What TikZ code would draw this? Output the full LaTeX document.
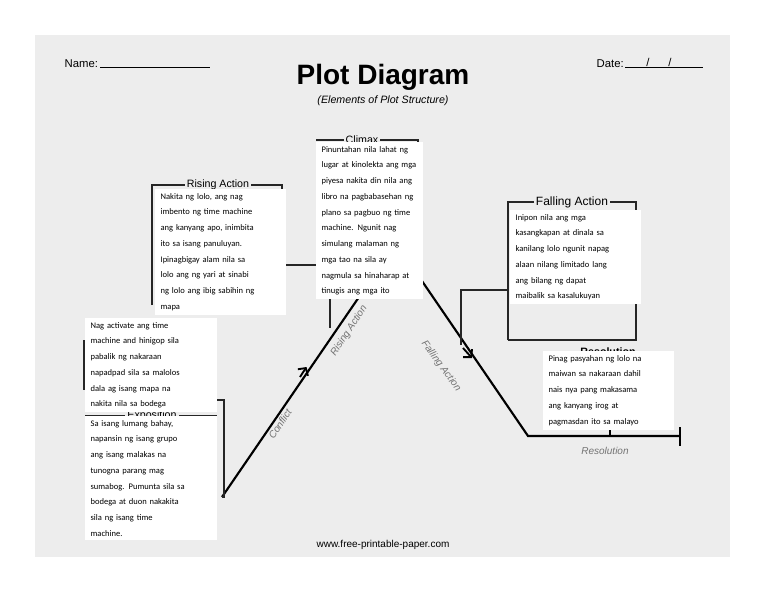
\documentclass[tikz,border=0pt]{standalone}
\usepackage{fontspec}
\usetikzlibrary{arrows.meta}
\setmainfont{Liberation Sans}
\newfontfamily\boxfont{Carlito}
\begin{document}
\begin{tikzpicture}[x=0.75pt,y=-0.75pt,
  txt/.style={anchor=north west,fill=white,align=left,inner xsep=4pt,inner ysep=3pt,
     font=\boxfont\fontsize{6.4}{11.8}\selectfont},
  ttl/.style={font=\fontsize{8}{9}\selectfont,fill=black!7,inner sep=1.5pt},
  frm/.style={line width=1pt,black!85},
  plot/.style={line width=1.6pt},
  tip/.style={line width=1.4pt,-{Straight Barb[length=4pt,width=9pt]}},
  lab/.style={font=\itshape\fontsize{7.5}{8}\selectfont,text=black!55}]
\useasboundingbox (0,0) rectangle (768,594);
\fill[white] (0,0) rectangle (768,594);
\fill[black!7] (35,35) rectangle (730,557);
% header
\node[anchor=base west,font=\fontsize{8.5}{9}\selectfont] (nm) at (60,67) {Name:};
\draw[line width=0.6pt] (100,67) -- (210,67);
\node[font=\bfseries\fontsize{21}{22}\selectfont] (t) at (383,77) {Plot Diagram};
\node[font=\itshape\fontsize{8}{9}\selectfont] (st) at (383,101) {(Elements of Plot Structure)};
\node[anchor=base west,font=\fontsize{8.5}{9}\selectfont] (dt) at (592,67) {Date:};
\draw[line width=0.6pt] (625,67) -- (703,67);
\node[anchor=base,font=\fontsize{8.5}{9}\selectfont] (s1) at (648,66) {/};
\node[anchor=base,font=\fontsize{8.5}{9}\selectfont] (s2) at (670,66) {/};
% plot line
\coordinate (c0) at (222,497);
\coordinate (pk) at (396,243);
\coordinate (fb) at (528,436);
\coordinate (re) at (680,436);
\draw[plot,line join=miter] (c0) -- (pk) -- (fb) -- (re);
\draw[plot] (680,427) -- (680,446);
\draw[plot] (610,428) -- (610,436);
\draw[plot] (86,490) -- (86,500);
\draw[tip] (300,377) -- (306.5,367);
\draw[tip] (463,348) -- (472,358);
\node[lab,rotate=57] (l1) at (280,424) {Conflict};
\node[lab,rotate=57] (l2) at (349,331) {Rising Action};
\node[lab,rotate=-54] (l3) at (441,366) {Falling Action};
\node[lab] (l4) at (605,451) {Resolution};
% connectors
\draw[frm] (214,400) -- (224,400) -- (224,497) -- (222,497);
\draw[frm] (282,265) -- (318,265);
\draw[frm] (330,290) -- (330,328);
\draw[frm] (461,345) -- (461,290) -- (508,290);
% frames
\draw[frm] (152,305) -- (152,185) -- (282,185) -- (282,300);
\draw[frm] (316,140) -- (418,140) -- (418,212);
\draw[frm] (508,340) -- (508,202) -- (636,202) -- (636,340) -- (508,340);
\draw[frm] (84,340) -- (84,390);
\draw[frm] (216,340) -- (216,390);
\draw[frm] (86,490) -- (86,416) -- (216,416) -- (216,500);
\draw[frm] (545,365) -- (545,420);
\draw[frm] (672,365) -- (672,420);
% titles
\node[ttl] (tr) at (218,185) {Rising Action};
\node[ttl] (tc) at (362,140) {Climax};
\node[ttl,font=\fontsize{9}{10}\selectfont] (tf) at (572,202) {Falling Action};
\node[ttl,font=\bfseries\fontsize{8}{9}\selectfont] (tre) at (608,352) {Resolution};
\node[ttl] (tex) at (152,416) {Exposition};
% text boxes
\node[txt,text width=90pt] (br) at (155,189) {Nakita ng lolo, ang nag\\ imbento ng time machine\\ ang kanyang apo, inimbita\\ ito sa isang panuluyan.\\ Ipinagbigay alam nila sa\\ lolo ang ng yari at sinabi\\ ng lolo ang ibig sabihin ng\\ mapa\\[-4pt]};
\node[txt,text width=72pt] (bc) at (316,142) {Pinuntahan nila lahat ng\\ lugar at kinolekta ang mga\\ piyesa nakita din nila ang\\ libro na pagbabasehan ng\\ plano sa pagbuo ng time\\ machine. Ngunit nag\\ simulang malaman ng\\ mga tao na sila ay\\ nagmula sa hinaharap at\\ tinugis ang mga ito\\[-2pt]};
\node[txt,text width=90pt] (bf) at (510,210) {Inipon nila ang mga\\ kasangkapan at dinala sa\\ kanilang lolo ngunit napag\\ alaan nilang limitado lang\\ ang bilang ng dapat\\ maibalik sa kasalukuyan\\[2pt]};
\node[txt,text width=91pt] (bn) at (85,318) {Nag activate ang time\\ machine and hinigop sila\\ pabalik ng nakaraan\\ napadpad sila sa malolos\\ dala ag isang mapa na\\ nakita nila sa bodega\\[2pt]};
\node[txt,text width=91pt] (be) at (85,416) {Sa isang lumang bahay,\\ napansin ng isang grupo\\ ang isang malakas na\\ tunogna parang mag\\ sumabog. Pumunta sila sa\\ bodega at duon nakakita\\ sila ng isang time\\ machine.};
\node[txt,text width=90pt] (bres) at (543,351) {Pinag pasyahan ng lolo na\\ maiwan sa nakaraan dahil\\ nais nya pang makasama\\ ang kanyang irog at\\ pagmasdan ito sa malayo};
\node[font=\fontsize{7.5}{8}\selectfont] (ft) at (383,545) {www.free-printable-paper.com};
\end{tikzpicture}
\end{document}
